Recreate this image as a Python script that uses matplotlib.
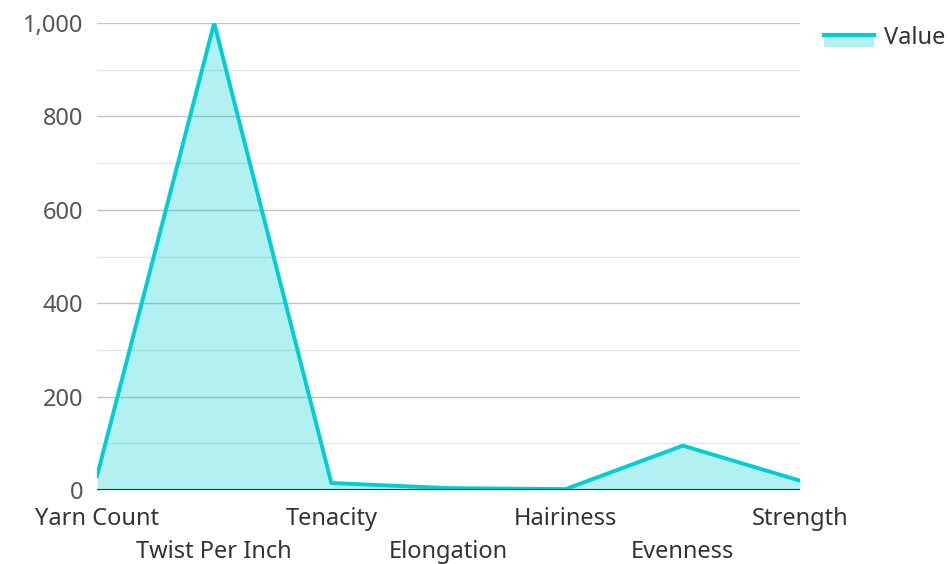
import matplotlib.pyplot as plt
from matplotlib.patches import Rectangle
from matplotlib.lines import Line2D
from matplotlib.legend_handler import HandlerBase

plt.rcParams['font.family'] = ['Noto Sans', 'DejaVu Sans']

categories = ['Yarn Count', 'Twist Per Inch', 'Tenacity', 'Elongation',
              'Hairiness', 'Evenness', 'Strength']
values = [30, 1000, 15, 4, 2, 95, 20]
y_ticks = [0, 200, 400, 600, 800, 1000]
y_labels = ['0', '200', '400', '600', '800', '1,000']

line_color = '#00CED1'


class AreaHandler(HandlerBase):
    # filled box with the line along its top, like the chart's legend key
    def create_artists(self, legend, orig, xd, yd, w, h, fontsize, trans):
        box = Rectangle((xd, yd - h * 0.15), w, h * 0.7, facecolor=line_color, alpha=0.3,
                        edgecolor='none', transform=trans)
        ln = Line2D([xd, xd + w], [yd + h * 0.55, yd + h * 0.55], color=line_color,
                    lw=3, transform=trans)
        return [box, ln]


fig = plt.figure(figsize=(9.49, 5.64), dpi=100)
ax = fig.add_axes([97 / 949, 1 - 490 / 564, 703 / 949, 467 / 564])

x = list(range(len(categories)))
ax.fill_between(x, values, 0, color=line_color, alpha=0.3, lw=0)
ax.plot(x, values, color=line_color, lw=2.8)

ax.set_xlim(0, len(categories) - 1)
ax.set_ylim(0, 1000)

# grid: lighter lines at the odd hundreds
for v in range(100, 1001, 100):
    ax.axhline(v, color='#c4c4c4' if v % 200 == 0 else '#e6e6e6', lw=1, zorder=0)
ax.axhline(0, color='#333333', lw=1.5, zorder=3)

ax.set_yticks(y_ticks)
ax.set_yticklabels(y_labels)
ax.set_xticks(x)
ax.set_xticklabels([c if i % 2 == 0 else '\n' + c for i, c in enumerate(categories)],
                   linespacing=1.5)
ax.tick_params(axis='both', length=0, labelsize=17, colors='#555555')
ax.tick_params(axis='x', pad=12, colors='#333333')
ax.tick_params(axis='y', pad=10)
for s in ax.spines.values():
    s.set_visible(False)

handle = Rectangle((0, 0), 1, 1)
fig.legend([handle], ['Value'], handler_map={Rectangle: AreaHandler()},
           loc='upper left', bbox_to_anchor=(803 / 949, 1 - 5 / 564), frameon=False,
           fontsize=17, handlelength=2.1, handletextpad=0.42, labelcolor='#333333')

fig.savefig('out.png', dpi=100)
